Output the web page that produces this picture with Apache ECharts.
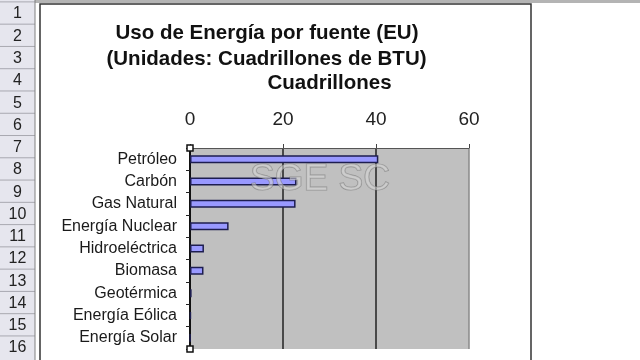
<!DOCTYPE html>
<html>
<head>
<meta charset="utf-8">
<script src="https://cdn.jsdelivr.net/npm/echarts@6/dist/echarts.min.js"></script>
<style>
html,body{margin:0;padding:0;background:#fff;}
#c{width:640px;height:360px;}
</style>
</head>
<body>
<div id="c"></div>
<script>
const categories = ['Petróleo','Carbón','Gas Natural','Energía Nuclear','Hidroeléctrica','Biomasa','Geotérmica','Energía Eólica','Energía Solar'];
const values = [40.5, 22.9, 22.7, 8.3, 3.0, 2.9, 0.35, 0.18, 0.06];
const titleLines = ['Uso de Energía por fuente (EU)', '(Unidades: Cuadrillones de BTU)'];
const axisName = 'Cuadrillones';
const rowNumbers = ['1','2','3','4','5','6','7','8','9','10','11','12','13','14','15','16'];

const FONT = "'Liberation Sans', Arial, sans-serif";
const chart = echarts.init(document.getElementById('c'), null, {renderer:'canvas'});

const graphics = [];
graphics.push({type:'rect', shape:{x:0,y:0,width:640,height:3}, style:{fill:'#b4b4b4'}, z:0});
const rowH = 22.27, rowTop = 1.9;
graphics.push({type:'rect', shape:{x:0,y:0,width:35,height:360}, style:{fill:'#e6e6ee'}, z:0});
rowNumbers.forEach((t,i)=>{
  const y0 = rowTop + i*rowH;
  graphics.push({type:'line', shape:{x1:0,y1:y0,x2:35,y2:y0}, style:{stroke:'#a8a8b0',lineWidth:1}, z:1});
  graphics.push({type:'text', x:17.5, y:y0+rowH/2+1, style:{text:t, fontSize:16, fontFamily:FONT, fill:'#222', align:'center', verticalAlign:'middle', textAlign:'center', textVerticalAlign:'middle'}, z:2});
});
graphics.push({type:'line', shape:{x1:35,y1:0,x2:35,y2:360}, style:{stroke:'#808080',lineWidth:1}, z:1});
graphics.push({type:'rect', shape:{x:40,y:4,width:491,height:370}, style:{fill:'none',stroke:'#333',lineWidth:1.5}, z:1});
graphics.push({type:'text', x:267, y:33.5, style:{text:titleLines[0], fontSize:20.5, fontWeight:'bold', fontFamily:FONT, fill:'#111', align:'center', verticalAlign:'middle', textAlign:'center', textVerticalAlign:'middle'}, z:5});
graphics.push({type:'text', x:266.5, y:59, style:{text:titleLines[1], fontSize:20.5, fontWeight:'bold', fontFamily:FONT, fill:'#111', align:'center', verticalAlign:'middle', textAlign:'center', textVerticalAlign:'middle'}, z:5});
[[190,148],[190,349]].forEach(p=>{
  graphics.push({type:'rect', shape:{x:p[0]-3,y:p[1]-3,width:6,height:6}, style:{fill:'#fff',stroke:'#111',lineWidth:1.5}, z:20});
});
graphics.push({type:'text', x:320, y:180, style:{text:'SGE SC', fontSize:37, fontFamily:FONT, fill:'rgba(215,215,215,0.55)', stroke:'rgba(110,110,110,0.55)', lineWidth:1.2, align:'center', verticalAlign:'middle', textAlign:'center', textVerticalAlign:'middle'}, z:30});

chart.setOption({
  animation:false,
  backgroundColor:'#fff',
  textStyle:{fontFamily:FONT},
  grid:{left:190, top:148, width:279, height:201, show:true, backgroundColor:'#c0c0c0', borderWidth:0, containLabel:false},
  xAxis:{
    type:'value', position:'top', min:0, max:60, interval:20,
    name:axisName, nameLocation:'middle', nameGap:54,
    nameTextStyle:{fontSize:20.5, fontWeight:'bold', color:'#111', fontFamily:FONT},
    axisLine:{show:true, lineStyle:{color:'#555', width:1}},
    axisTick:{show:true, length:4, lineStyle:{color:'#444', width:1}},
    axisLabel:{fontSize:19, color:'#222', margin:19, fontFamily:FONT},
    splitLine:{show:true, lineStyle:{color:['#222','#222','#222','#8a8a8a'], width:1.5}}
  },
  yAxis:{
    type:'category', data:categories, inverse:true,
    axisLine:{show:true, onZero:false, lineStyle:{color:'#111', width:2}},
    axisTick:{show:true, length:4, lineStyle:{color:'#222', width:1}},
    axisLabel:{fontSize:16, color:'#1a1a1a', margin:13, fontFamily:FONT},
    splitLine:{show:false}
  },
  series:[{
    type:'bar', data:values, barWidth:8,
    itemStyle:{color:'#9999ff', borderColor:'#1e1e50', borderWidth:1.5},
    z:3
  }],
  graphic:{elements:graphics}
});
</script>
</body>
</html>
